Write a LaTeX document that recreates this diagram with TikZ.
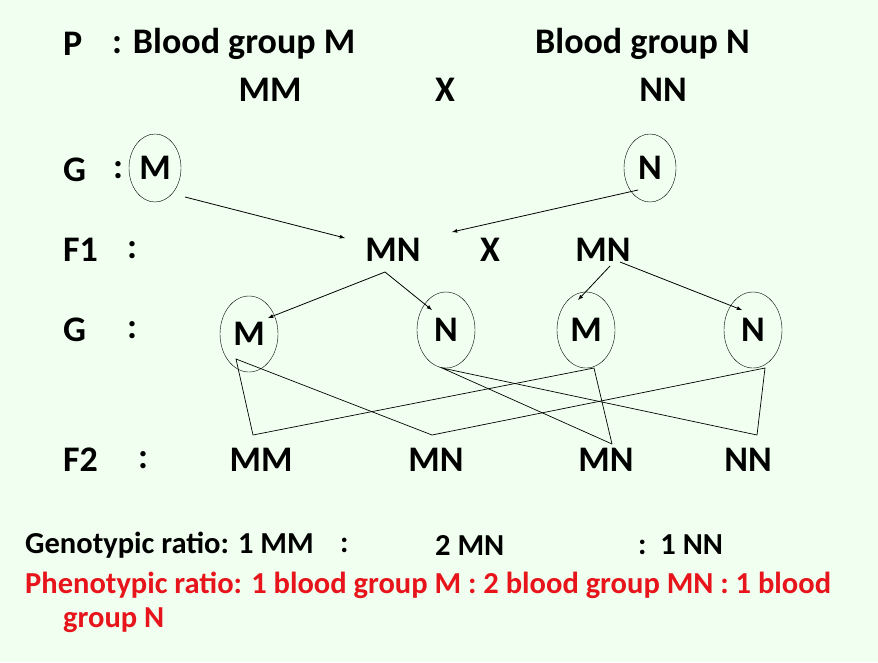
\documentclass[tikz,border=0pt]{standalone}
\usepackage{fontspec}
\usetikzlibrary{shapes.geometric}
\setmainfont{Carlito}
\definecolor{bg}{HTML}{F0FFF0}
\definecolor{redt}{HTML}{E8141C}
\begin{document}
\begin{tikzpicture}[x=1pt,y=-1pt,
  big/.style={font=\bfseries\fontsize{36}{40}\selectfont,inner sep=0pt},
  small/.style={font=\bfseries\fontsize{30.5}{34}\selectfont,inner sep=0pt,anchor=west},
  gam/.style={draw,ellipse,minimum width=58pt,minimum height=76pt,inner sep=0pt,font=\bfseries\fontsize{36}{40}\selectfont},
  arr/.style={-latex,line width=0.8pt},
  ln/.style={line width=0.7pt}]
\fill[bg] (0,0) rectangle (878,662);
\useasboundingbox (0,0) rectangle (878,662);
\node[big,anchor=west] (p) at (63,44) {P};
\node[big,anchor=west] (pt) at (112,44) {: Blood group M};
\node[big,anchor=west] (pn) at (535,44) {Blood group N};
\node[big] (mm) at (270,90) {MM};
\node[big] (x1) at (445,90) {X};
\node[big] (nn) at (663,90) {NN};
\node[big,anchor=west] (g1) at (63,170) {G};
\node[big] (c1) at (118,170) {:};
\node[gam,minimum width=52pt,minimum height=68pt] (gm) at (155,168) {M};
\node[gam,minimum width=52pt,minimum height=68pt] (gn) at (650,168) {N};
\node[big,anchor=west] (f1) at (63,250) {F1};
\node[big] (c2) at (132,250) {:};
\node[big] (mn1) at (393,250) {MN};
\node[big] (x2) at (490,250) {X};
\node[big] (mn2) at (603,250) {MN};
\draw[arr] (185,197) -- (345,238);
\draw[arr] (638,190) -- (452,232);
\coordinate (a1) at (385,272);
\coordinate (a2) at (620,262);
\draw[arr] (a1) -- (268,318);
\draw[arr] (a1) -- (432,310);
\draw[arr] (610,266) -- (578,300);
\draw[arr] (a2) -- (742,310);
\node[big,anchor=west] (g2) at (63,330) {G};
\node[big] (c3) at (132,330) {:};
\node[gam] (m1) at (249,334) {M};
\node[gam] (n1) at (446,330) {N};
\node[gam] (m2) at (586,330) {M};
\node[gam] (n2) at (753,330) {N};
\node[big,anchor=west] (f2) at (63,460) {F2};
\node[big] (c4) at (143,460) {:};
\node[big] (r1) at (261,460) {MM};
\node[big] (r2) at (436,460) {MN};
\node[big] (r3) at (606,460) {MN};
\node[big] (r4) at (748,460) {NN};
\coordinate (pm1) at (236,359);
\coordinate (pn1) at (442,368);
\coordinate (pm2) at (594,368);
\coordinate (pn2) at (765,368);
\coordinate (q1) at (253,435);
\coordinate (q2) at (432,435);
\coordinate (q3) at (612,444);
\coordinate (q4) at (757,435);
\draw[ln] (q1) -- (pm1) -- (q2);
\draw[ln] (q3) -- (pn1) -- (q4);
\draw[ln] (q1) -- (pm2) -- (q3);
\draw[ln] (q2) -- (pn2) -- (q4);
\node[small] (gr) at (25,545) {Genotypic ratio: 1 MM};
\node[small] (grc) at (340,545) {:};
\node[small] (gr2) at (435,545) {2 MN};
\node[small] (gr3) at (638,545) {:~~1 NN};
\node[small,text=redt] (ph1) at (25,585) {Phenotypic ratio: 1 blood group M : 2 blood group MN : 1 blood};
\node[small,text=redt] (ph2) at (63,620) {group N};
\end{tikzpicture}
\end{document}
